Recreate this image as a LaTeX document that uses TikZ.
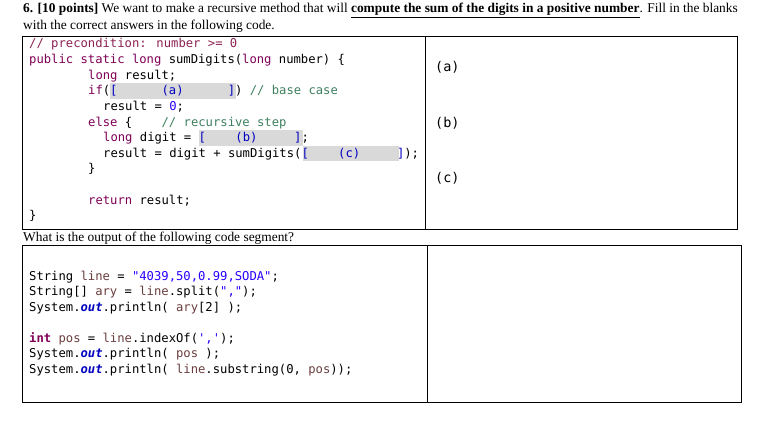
\documentclass[tikz,border=0pt]{standalone}
\usepackage{fontspec}
\setmainfont{Liberation Serif}
\newfontfamily\code{DejaVu Sans Mono}
\definecolor{kw}{HTML}{7F0055}
\definecolor{cm}{HTML}{3F7F5F}
\definecolor{pc}{HTML}{8B2252}
\definecolor{st}{HTML}{2A00FF}
\definecolor{vr}{HTML}{6A3E3E}
\definecolor{fl}{HTML}{0000C0}
\definecolor{hl}{HTML}{D9D9D9}
\newcommand{\ckw}[1]{\textcolor{kw}{#1}}
\newcommand{\ccm}[1]{\textcolor{cm}{#1}}
\newcommand{\cst}[1]{\textcolor{st}{#1}}
\newcommand{\cvr}[1]{\textcolor{vr}{#1}}
\newcommand{\cbl}[1]{\textcolor{fl}{#1}}
\newcommand{\cout}{\textcolor{fl}{\bfseries\itshape out}}
\begin{document}
\begin{tikzpicture}[x=1pt,y=-1pt,
  txt/.style={anchor=base west,inner sep=0pt,font=\fontsize{13.4}{15}\selectfont},
  cd/.style={anchor=base west,inner sep=0pt,font=\code\fontsize{12.2}{14}\selectfont},
  frame/.style={draw=black,line width=1pt},
  blank/.style={fill=hl,draw=none}]
\useasboundingbox (0,0) rectangle (767,420);
% heading
\node[txt] (h1) at (23,13) {\textbf{6. [10 points]} We want to make a recursive method that will \textbf{\underline{compute the sum of the digits in a positive number}}. Fill in the blanks};
\node[txt] (h2) at (23,30) {with the correct answers in the following code.};
% top table
\draw[frame] (22,37) rectangle (737,229);
\draw[frame] (425,37) -- (425,229);
% highlights
\def\cw{7.4}
\fill[blank] (88+3*\cw,83) rectangle (88+20*\cw,99);
\fill[blank] (103+13*\cw,130) rectangle (103+27*\cw,145.5);
\fill[blank] (103+27*\cw,145.5) rectangle (103+40*\cw,161);
% code
\node[cd] (l0) at (29,48) {\textcolor{pc}{// precondition: number >= 0}};
\node[cd] (l1) at (29,63.6) {\ckw{public}~\ckw{static}~\ckw{long}~sumDigits(\ckw{long}~number)~\{};
\node[cd] (l2) at (88,79.2) {\ckw{long}~result;};
\node[cd] (l3) at (88,94.8) {\ckw{if}(\cbl{[~~~~~~(a)~~~~~~]})~\ccm{// base case}};
\node[cd] (l4) at (103,110.4) {result~=~\cst{0};};
\node[cd] (l5) at (88,126) {\ckw{else}~\{~~~~\ccm{// recursive step}};
\node[cd] (l6) at (103,141.6) {\ckw{long}~digit~=~\cbl{[~~~~(b)~~~~~]};};
\node[cd] (l7) at (103,157.2) {result~=~digit~+~sumDigits(\cbl{[~~~~(c)~~~~~]});};
\node[cd] (l8) at (88,172.8) {\}};
\node[cd] (l9) at (88,204) {\ckw{return}~result;};
\node[cd] (l10) at (29,219.6) {\}};
\node[cd,font=\code\fontsize{13.5}{15}\selectfont] (a) at (435,71) {(a)};
\node[cd,font=\code\fontsize{13.5}{15}\selectfont] (b) at (435,127) {(b)};
\node[cd,font=\code\fontsize{13.5}{15}\selectfont] (c) at (435,182) {(c)};
% question
\node[txt] (q) at (23,241) {What is the output of the following code segment?};
\draw[frame] (22,245) rectangle (741,402);
\draw[frame] (427,245) -- (427,402);
\node[cd] (m0) at (29,280) {String~\cvr{line}~=~\cst{"4039,50,0.99,SODA"};};
\node[cd] (m1) at (29,295.5) {String[]~\cvr{ary}~=~\cvr{line}.split(\cst{","});};
\node[cd] (m2) at (29,311) {System.\cout.println(~\cvr{ary}[2]~);};
\node[cd] (m3) at (29,342) {\ckw{\bfseries int}~\cvr{pos}~=~\cvr{line}.indexOf(\cst{','});};
\node[cd] (m4) at (29,357.5) {System.\cout.println(~\cvr{pos}~);};
\node[cd] (m5) at (29,373) {System.\cout.println(~\cvr{line}.substring(0,~\cvr{pos}));};
\end{tikzpicture}
\end{document}
